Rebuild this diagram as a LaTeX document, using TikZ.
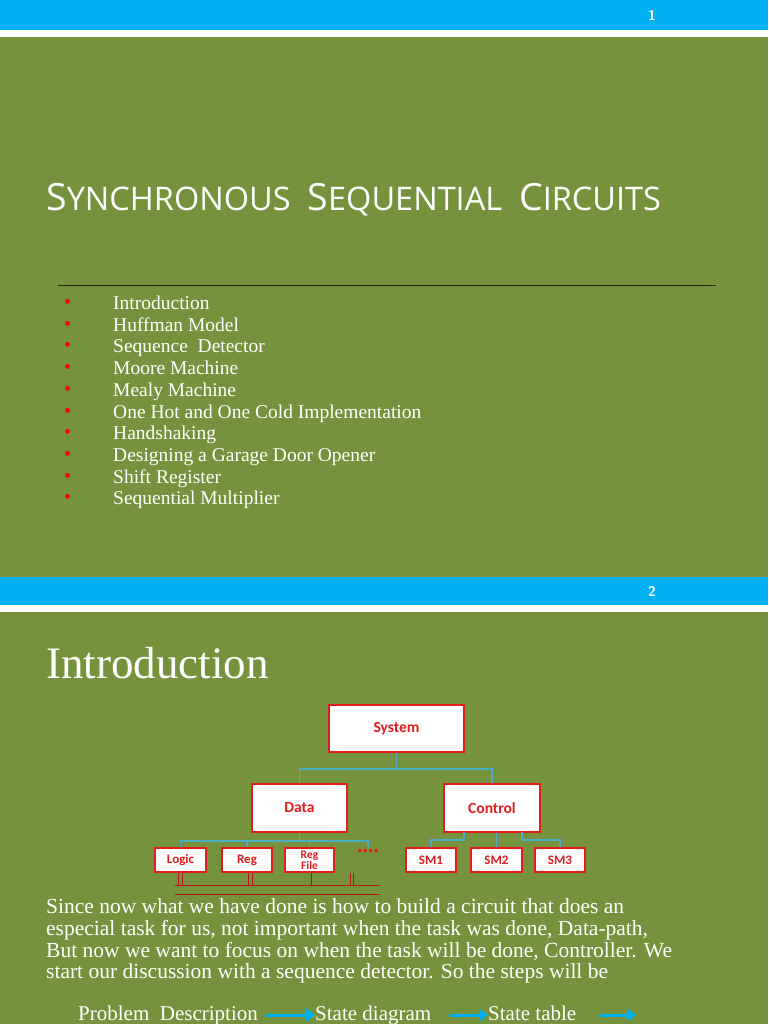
\documentclass[tikz,border=0pt]{standalone}
\usepackage{fontspec}
\setmainfont{Liberation Serif}
\newfontfamily\titlefont{Open Sans}
\newfontfamily\boxfont{Carlito}
\usetikzlibrary{arrows.meta}
\definecolor{bg}{HTML}{76923C}
\definecolor{barblue}{HTML}{00B0F0}
\definecolor{conn}{HTML}{4BACC6}
\definecolor{boxred}{HTML}{E31B1B}
\begin{document}
\begin{tikzpicture}[x=1pt,y=-1pt,
  box/.style={draw=boxred,line width=1.6pt,fill=white,inner sep=0pt,text=boxred,font=\boxfont\bfseries\fontsize{15.5}{15.5}\selectfont,align=center},
  sbox/.style={box,line width=1.4pt,font=\boxfont\bfseries\fontsize{13}{13}\selectfont},
  link/.style={conn,line width=1.6pt},
  bul/.style={anchor=west,text=white,font=\fontsize{19.5}{19.5}\selectfont,inner sep=0pt},
  dot/.style={anchor=west,text=red,font=\fontsize{20}{20}\selectfont,inner sep=0pt},
  pline/.style={anchor=base west,inner sep=0pt,text width=676pt,align=justify,text=white,font=\fontsize{21.5}{21.7}\selectfont},
  stp/.style={anchor=base west,text=white,font=\fontsize{21}{21}\selectfont,inner sep=0pt},
  arr/.style={barblue,line width=3pt,-{Triangle[length=9pt,width=13pt]}}]
\useasboundingbox (0,0) rectangle (768,1024);
\fill[white] (0,0) rectangle (768,1024);
\fill[barblue] (0,0) rectangle (768,30);
\fill[bg] (0,37) rectangle (768,577);
\fill[barblue] (0,577) rectangle (768,605);
\fill[bg] (0,612) rectangle (768,1024);
\node[text=white,font=\sffamily\bfseries\fontsize{14}{14}\selectfont] (n1) at (652,15) {1};
\node[text=white,font=\sffamily\bfseries\fontsize{14}{14}\selectfont] (n2) at (652,591) {2};
\node[anchor=west,text=white,inner sep=0pt,font=\titlefont\fontsize{37.5}{37.5}\selectfont] (title) at (46,200) {S\fontsize{32.5}{32.5}\selectfont YNCHRONOUS\ \ \fontsize{37.5}{37.5}\selectfont S\fontsize{32.5}{32.5}\selectfont EQUENTIAL\ \ \fontsize{37.5}{37.5}\selectfont C\fontsize{32.5}{32.5}\selectfont IRCUITS};
\draw[line width=1pt,black!70!bg] (58,285) -- (716,285);
\foreach \t [count=\i] in {Introduction,Huffman Model,Sequence\ \ Detector,Moore Machine,Mealy Machine,One Hot and One Cold Implementation,Handshaking,Designing a Garage Door Opener,Shift Register,Sequential Multiplier}{
  \node[dot] (d\i) at (64,{304+21.7*(\i-1)}) {•};
  \node[bul] (b\i) at (113,{305+21.7*(\i-1)}) {\vphantom{Ayg}\t};
}
\node[anchor=west,text=white,inner sep=0pt,font=\fontsize{45}{45}\selectfont] (intro) at (46,663) {Introduction};
\node[box,minimum width=135pt,minimum height=47pt] (sys) at (396.5,728.5) {System};
\node[box,minimum width=95pt,minimum height=48pt] (data) at (299.5,808) {Data};
\node[box,minimum width=96pt,minimum height=48pt] (ctrl) at (492,808) {Control};
\node[sbox,minimum width=51pt,minimum height=24pt] (logic) at (180.5,860) {Logic};
\node[sbox,minimum width=50pt,minimum height=24pt] (reg) at (247,860) {Reg};
\node[sbox,minimum width=49pt,minimum height=24pt,font=\boxfont\bfseries\fontsize{11.5}{11}\selectfont] (rf) at (309.5,860) {Reg\\File};
\node[text=boxred,font=\bfseries\fontsize{22}{22}\selectfont,inner sep=0pt] (dots) at (368,851) {....};
\coordinate (dtop) at (368,847);
\node[sbox,minimum width=50pt,minimum height=24pt] (sm1) at (431,860) {SM1};
\node[sbox,minimum width=51pt,minimum height=24pt] (sm2) at (496.5,860) {SM2};
\node[sbox,minimum width=50pt,minimum height=24pt] (sm3) at (560,860) {SM3};
\coordinate (c1) at (464,832);
\coordinate (c3) at (522,832);
\draw[link] (sys.south) -- ++(0,16) -| (data.north);
\draw[link] (sys.south) -- ++(0,16) -| (ctrl.north);
\draw[link] (data.south) -- ++(0,8) -| (logic.north);
\draw[link] (data.south) -- ++(0,8) -| (reg.north);
\draw[link] (data.south) -- ++(0,8) -| (rf.north);
\draw[link] (data.south) -- ++(0,8) -| (dtop);
\draw[link] (c1) -- ++(0,8) -| (sm1.north);
\draw[link] (sm2.north |- ctrl.south) -- (sm2.north);
\draw[link] (c3) -- ++(0,8) -| (sm3.north);
\draw[boxred!80!black,line width=1pt] (175,885) -- (380,885) (175,894) -- (380,894);
\foreach \x in {178,182,248,252,311,350,353}{\draw[boxred!80!black,line width=0.8pt] (\x,873) -- (\x,885);}
\node[pline] (p1) at (46,913) {\parfillskip=0pt Since now what we have done is how to build a circuit that does an};
\node[pline] (p2) at (46,935) {\parfillskip=0pt especial task for us, not important when the task was done, Data-path,};
\node[pline] (p3) at (46,957) {\parfillskip=0pt But now we want to focus on when the task will be done, Controller. We};
\node[pline] (p4) at (46,978) {start our discussion with a sequence detector. So the steps will be};
\node[stp] (s1) at (78,1020) {Problem\ \ Description};
\node[stp] (s2) at (315,1020) {State diagram};
\node[stp] (s3) at (488,1020) {State table};
\coordinate (a1) at (265,1015);
\coordinate (a2) at (450,1015);
\coordinate (a3) at (600,1015);
\coordinate (e3) at (636,1015);
\draw[arr] (a1) -- (s2.west |- a1);
\draw[arr] (a2) -- (s3.west |- a2);
\draw[arr] (a3) -- (e3);
\end{tikzpicture}
\end{document}
